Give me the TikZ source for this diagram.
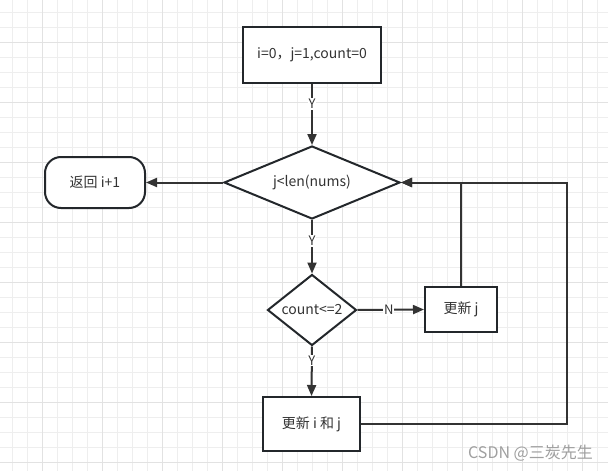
\documentclass[tikz,border=0pt]{standalone}
\usepackage{fontspec}
\setmainfont{Noto Sans CJK SC}
\usetikzlibrary{shapes.geometric,arrows.meta}
\definecolor{gminor}{HTML}{EEEEEE}
\definecolor{gmajor}{HTML}{E2E2E2}
\definecolor{edge}{HTML}{333333}
\definecolor{bord}{HTML}{23272B}
\definecolor{txt}{HTML}{333333}
\tikzset{
  box/.style={draw=bord,line width=2pt,fill=white,inner sep=0pt,font=\fontsize{14}{16}\selectfont,text=txt},
  dia/.style={box,diamond},
  conn/.style={draw=edge,line width=2pt,-{Triangle[length=11pt,width=9pt]}},
  lab/.style={fill=white,inner sep=1pt,font=\fontsize{13}{15}\selectfont,text=txt}
}
\begin{document}
\begin{tikzpicture}[x=1pt,y=-1pt]
\useasboundingbox (0,0) rectangle (608,471);
\fill[white] (0,0) rectangle (608,471);
\foreach \x in {12,27,...,600} \draw[gminor,line width=1pt] (\x,0) -- (\x,471);
\foreach \y in {12,27,...,470} \draw[gminor,line width=1pt] (0,\y) -- (608,\y);
\foreach \x in {42,102,...,600} \draw[gmajor,line width=1pt] (\x,0) -- (\x,471);
\foreach \y in {42,102,...,470} \draw[gmajor,line width=1pt] (0,\y) -- (608,\y);

\node[box,minimum width=138pt,minimum height=56pt] (top) at (312,55) {i=0，j=1,count=0};
\node[dia,shape aspect=2.4,minimum width=176pt,minimum height=73pt] (d1) at (312,182.5) {j<len(nums)};
\node[box,rounded corners=16pt,minimum width=100pt,minimum height=51pt] (ret) at (95,182.5) {返回 i+1};
\node[dia,shape aspect=1.25,minimum width=89pt,minimum height=71pt] (d2) at (312,310) {count<=2};
\node[box,minimum width=72pt,minimum height=45pt] (uj) at (461,309.5) {更新 j};
\node[box,minimum width=97pt,minimum height=54pt] (uij) at (311.5,424) {更新 i 和 j};
\coordinate (rr) at (567,424);

\draw[conn] (top) -- node[lab,pos=0.33] {Y} (d1);
\draw[conn] (d1.west) -- (ret.east);
\draw[conn] (d1.south) -- node[lab,pos=0.39] {Y} (d2.north);
\draw[conn] (d2.east) -- node[lab,pos=0.47] {N} (uj.west);
\draw[conn] (d2.south) -- node[lab,pos=0.28] {Y} (uij.north);
\draw[conn] (uj.north) |- (d1.east);
\draw[conn] (uij.east) -- (rr) |- (d1.east);

\node[anchor=east,text=gray!75,font=\fontsize{16}{18}\selectfont,inner sep=0pt] (wm) at (593,453) {CSDN @三炭先生};
\end{tikzpicture}
\end{document}
